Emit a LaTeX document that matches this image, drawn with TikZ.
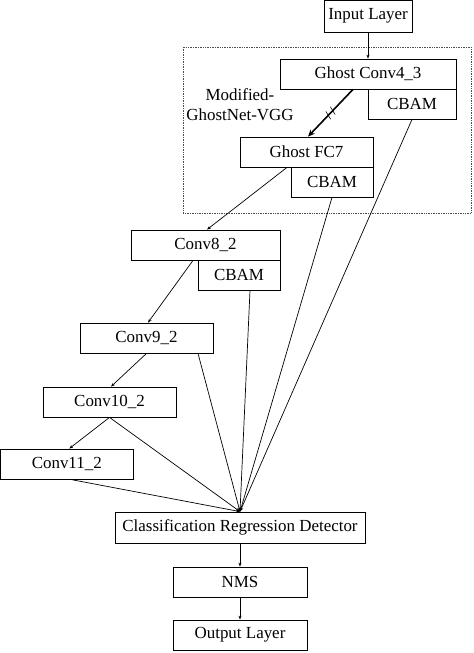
\documentclass[tikz,border=0pt]{standalone}
\usepackage{fontspec}
\setmainfont{Liberation Serif}
\usetikzlibrary{arrows.meta,calc}
\begin{document}
\begin{tikzpicture}[x=1bp,y=-1bp,
  box/.style={draw,line width=0.8bp,inner sep=0,font=\fontsize{17}{20}\selectfont},
  conn/.style={line width=0.7bp,-{Stealth[length=4bp,width=3bp]}},
  thickarrow/.style={line width=1.6bp,-{Stealth[length=7bp,width=6bp]}}]
\useasboundingbox (0,0) rectangle (474,653);
% dotted frame
\draw[densely dotted,line width=0.7bp,black!70] (183,47) rectangle (471,213);
% boxes
\node[box,minimum width=88bp,minimum height=31.5bp] (in) at (368,16.25) {Input Layer};
\node[box,minimum width=176bp,minimum height=30bp] (gc4) at (368,74) {Ghost Conv4\_3};
\node[box,minimum width=88bp,minimum height=30bp] (cb1) at (412,104) {CBAM};
\node[box,minimum width=133bp,minimum height=30bp] (gfc) at (306.5,152) {Ghost FC7};
\node[box,minimum width=82bp,minimum height=30bp] (cb2) at (332,182) {CBAM};
\node[box,minimum width=149bp,minimum height=30bp] (c8) at (205.5,245) {Conv8\_2};
\node[box,minimum width=82bp,minimum height=30bp] (cb3) at (239,275) {CBAM};
\node[box,minimum width=133bp,minimum height=30bp] (c9) at (146.5,338) {Conv9\_2};
\node[box,minimum width=133bp,minimum height=30bp] (c10) at (109.5,402) {Conv10\_2};
\node[box,minimum width=132.5bp,minimum height=30bp] (c11) at (66.75,464) {Conv11\_2};
\node[box,minimum width=250bp,minimum height=31bp] (crd) at (240,527.5) {Classification Regression Detector};
\node[box,minimum width=134bp,minimum height=30bp] (nms) at (240,582) {NMS};
\node[box,minimum width=134bp,minimum height=30bp] (out) at (240,635) {Output Layer};
\node[align=center,inner sep=0,font=\fontsize{17}{20}\selectfont] (lbl) at (240,105) {Modified-\\GhostNet-VGG};
% connectors
\draw[conn] (in.south) -- (gc4.north);
\coordinate (a1) at ([xshift=-15bp]gc4.south);
\coordinate (a2) at ([xshift=1.5bp]gfc.north);
\draw[thickarrow] (a1) -- (a2);
\coordinate (mA) at ($(a1)!0.45!(a2)$);
\coordinate (mB) at ($(a1)!0.55!(a2)$);
\draw[line width=0.6bp] ($(mA)!4.5bp!75:(a2)$) -- ($(mA)!4.5bp!-105:(a2)$);
\draw[line width=0.6bp] ($(mB)!4.5bp!75:(a2)$) -- ($(mB)!4.5bp!-105:(a2)$);
\draw[conn] ([xshift=-19.5bp]gfc.south) -- ([xshift=1.5bp]c8.north);
\draw[conn] ([xshift=-12.5bp]c8.south) -- ([xshift=1.5bp]c9.north);
\draw[conn] (c9.south) -- ([xshift=1.5bp]c10.north);
\draw[conn] (c10.south) -- ([xshift=2.5bp]c11.north);
\coordinate (P) at (crd.north);
\draw[conn] (cb1.south) -- (P);
\draw[conn] (cb2.south) -- (P);
\draw[conn] ([xshift=11bp]cb3.south) -- (P);
\draw[conn] ([xshift=51.5bp]c9.south) -- (P);
\draw[conn] (c10.south) -- (P);
\draw[conn] ([xshift=3.5bp]c11.south) -- (P);
\draw[conn] (crd.south) -- (nms.north);
\draw[conn] (nms.south) -- (out.north);
\end{tikzpicture}
\end{document}
